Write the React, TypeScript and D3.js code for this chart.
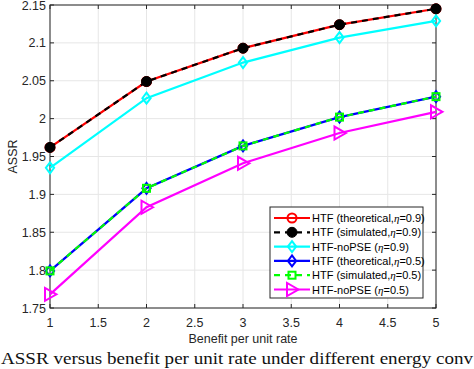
import React, { useEffect, useRef } from 'react';
import * as d3 from 'd3';

const benefit = [1, 2, 3, 4, 5];
const theo09 = [1.962, 2.049, 2.093, 2.124, 2.145];
const sim09 = [1.962, 2.049, 2.093, 2.124, 2.145];
const nopse09 = [1.935, 2.027, 2.074, 2.107, 2.129];
const theo05 = [1.799, 1.908, 1.964, 2.002, 2.029];
const sim05 = [1.799, 1.908, 1.964, 2.002, 2.029];
const nopse05 = [1.768, 1.883, 1.941, 1.981, 2.009];
const xTicks = [1, 1.5, 2, 2.5, 3, 3.5, 4, 4.5, 5];
const yTicks = [1.75, 1.8, 1.85, 1.9, 1.95, 2, 2.05, 2.1, 2.15];
const seriesNames = ['theoretical', 'simulated', 'noPSE', 'theoretical', 'simulated', 'noPSE'];
const etaLabels = ['0.9', '0.9', '0.9', '0.5', '0.5', '0.5'];

type Series = { values: number[]; color: string; dash: string | null; marker: string };

const series: Series[] = [
  { values: theo09, color: '#ff0000', dash: null, marker: 'circle' },
  { values: sim09, color: '#000000', dash: '6,5', marker: 'dot' },
  { values: nopse09, color: '#00ffff', dash: null, marker: 'diamond' },
  { values: theo05, color: '#0000ff', dash: null, marker: 'diamond' },
  { values: sim05, color: '#00ff00', dash: '6,5', marker: 'square' },
  { values: nopse05, color: '#ff00ff', dash: null, marker: 'triangle' },
];

const font = 'Liberation Sans, Arial, sans-serif';
const axisColor = '#262626';

function drawMarker(g: any, kind: string, x: number, y: number, color: string) {
  if (kind === 'circle') {
    g.append('circle').attr('cx', x).attr('cy', y).attr('r', 4.5)
      .attr('fill', 'none').attr('stroke', color).attr('stroke-width', 2);
  } else if (kind === 'dot') {
    g.append('circle').attr('cx', x).attr('cy', y).attr('r', 5)
      .attr('fill', color).attr('stroke', color).attr('stroke-width', 1);
  } else if (kind === 'diamond') {
    const s = 5.5;
    g.append('path').attr('d', `M${x},${y - s}L${x + s * 0.75},${y}L${x},${y + s}L${x - s * 0.75},${y}Z`)
      .attr('fill', 'none').attr('stroke', color).attr('stroke-width', 2);
  } else if (kind === 'square') {
    g.append('rect').attr('x', x - 3.5).attr('y', y - 3.5).attr('width', 7).attr('height', 7)
      .attr('fill', 'none').attr('stroke', color).attr('stroke-width', 2);
  } else if (kind === 'triangle') {
    g.append('path').attr('d', `M${x + 6.5},${y}L${x - 5},${y - 6.5}L${x - 5},${y + 6.5}Z`)
      .attr('fill', 'none').attr('stroke', color).attr('stroke-width', 2);
  }
}

export default function App() {
  const ref = useRef<SVGSVGElement>(null);

  useEffect(() => {
    const svg = d3.select(ref.current);
    svg.selectAll('*').remove();

    const left = 50, right = 436, top = 5, bottom = 308;

    const x = d3.scaleLinear().domain([1, 5]).range([left, right]);
    const y = d3.scaleLinear().domain([1.75, 2.15]).range([bottom, top]);

    svg.append('rect').attr('width', 474).attr('height', 369).attr('fill', '#fff');

    // grid
    const grid = svg.append('g');
    xTicks.forEach((t) => {
      grid.append('line').attr('x1', x(t)).attr('x2', x(t)).attr('y1', top).attr('y2', bottom)
        .attr('stroke', '#e6e6e6').attr('stroke-width', 1);
    });
    yTicks.forEach((t) => {
      grid.append('line').attr('x1', left).attr('x2', right).attr('y1', y(t)).attr('y2', y(t))
        .attr('stroke', '#e6e6e6').attr('stroke-width', 1);
    });

    // box
    svg.append('rect').attr('x', left).attr('y', top).attr('width', right - left).attr('height', bottom - top)
      .attr('fill', 'none').attr('stroke', axisColor).attr('stroke-width', 1);

    // ticks (inward)
    const ticks = svg.append('g').attr('stroke', axisColor);
    xTicks.forEach((t) => {
      ticks.append('line').attr('x1', x(t)).attr('x2', x(t)).attr('y1', bottom).attr('y2', bottom - 4);
      ticks.append('line').attr('x1', x(t)).attr('x2', x(t)).attr('y1', top).attr('y2', top + 4);
    });
    yTicks.forEach((t) => {
      ticks.append('line').attr('x1', left).attr('x2', left + 4).attr('y1', y(t)).attr('y2', y(t));
      ticks.append('line').attr('x1', right).attr('x2', right - 4).attr('y1', y(t)).attr('y2', y(t));
    });

    svg.append('g').selectAll('text').data(xTicks).enter().append('text')
      .attr('x', (d) => x(d)).attr('y', 327).attr('text-anchor', 'middle')
      .attr('font-family', font).attr('font-size', 12.5).attr('fill', axisColor)
      .text((d) => String(d));

    svg.append('g').selectAll('text').data(yTicks).enter().append('text')
      .attr('x', 46).attr('y', (d) => y(d) + 4.5).attr('text-anchor', 'end')
      .attr('font-family', font).attr('font-size', 12.5).attr('fill', axisColor)
      .text((d) => String(d));

    svg.append('text').attr('x', (left + right) / 2).attr('y', 343).attr('text-anchor', 'middle')
      .attr('font-family', font).attr('font-size', 12.5).attr('fill', axisColor)
      .text('Benefit per unit rate');

    svg.append('text').attr('transform', `translate(17,${(top + bottom) / 2}) rotate(-90)`)
      .attr('text-anchor', 'middle')
      .attr('font-family', font).attr('font-size', 12.5).attr('fill', axisColor)
      .text('ASSR');

    // series
    const line = d3.line<number>().x((_, i) => x(benefit[i])).y((d) => y(d));
    series.forEach((s) => {
      const g = svg.append('g');
      g.append('path').attr('d', line(s.values)).attr('fill', 'none')
        .attr('stroke', s.color).attr('stroke-width', 2.2)
        .attr('stroke-dasharray', s.dash);
      s.values.forEach((v, i) => drawMarker(g, s.marker, x(benefit[i]), y(v), s.color));
    });

    // legend
    const lg = svg.append('g');
    lg.append('rect').attr('x', 270).attr('y', 207).attr('width', 153).attr('height', 91)
      .attr('fill', '#fff').attr('stroke', axisColor).attr('stroke-width', 1);
    series.forEach((s, i) => {
      const ly = 218 + i * 14.3;
      lg.append('line').attr('x1', 274).attr('x2', 310).attr('y1', ly).attr('y2', ly)
        .attr('stroke', s.color).attr('stroke-width', 2.2).attr('stroke-dasharray', s.dash);
      drawMarker(lg, s.marker, 292, ly, s.color);
      const t = lg.append('text').attr('x', 312).attr('y', ly + 4)
        .attr('font-family', font).attr('font-size', 11).attr('fill', '#000');
      if (seriesNames[i] === 'noPSE') {
        t.append('tspan').text('HTF-noPSE (');
      } else {
        t.append('tspan').text(`HTF (${seriesNames[i]},`);
      }
      t.append('tspan').attr('font-family', 'Liberation Serif, serif').attr('font-style', 'italic').text('η');
      t.append('tspan').text(`=${etaLabels[i]})`);
    });

    // caption
    svg.append('text').attr('x', 1).attr('y', 364)
      .attr('font-family', 'Liberation Serif, Times New Roman, serif').attr('font-size', 16.5).attr('fill', '#111')
      .attr('textLength', 472).attr('lengthAdjust', 'spacingAndGlyphs')
      .text('ASSR versus benefit per unit rate under different energy conv');
  }, []);

  return (
    <div style={{ position: 'absolute', left: 0, top: 0 }}>
      <svg ref={ref} width={474} height={369} style={{ display: 'block' }} />
    </div>
  );
}
